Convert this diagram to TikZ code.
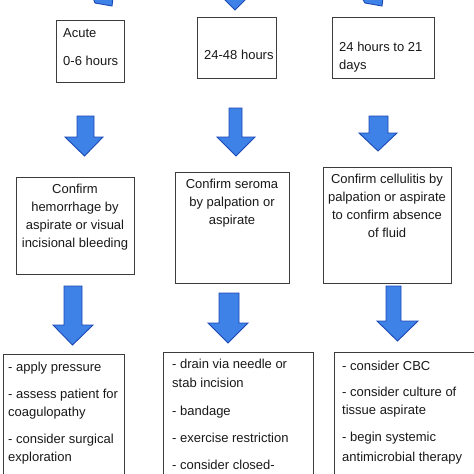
\documentclass[tikz,border=0pt]{standalone}
\usepackage{fontspec}
\setmainfont{Liberation Sans}
\definecolor{arrowfill}{RGB}{62,130,232}
\definecolor{arrowline}{RGB}{28,72,180}
\definecolor{boxline}{RGB}{60,60,60}
\definecolor{txtcol}{RGB}{25,25,25}
\tikzset{
  box/.style={draw=boxline, line width=0.9pt, fill=white, inner sep=0pt, rectangle},
  txt/.style={inner sep=0pt, text=txtcol, font=\fontsize{13}{18}\selectfont},
  blockarrow/.style={fill=arrowfill, draw=arrowline, line width=0.9pt, line join=miter}
}
\begin{document}
\begin{tikzpicture}[x=1pt,y=-1pt]
\useasboundingbox (0,0) rectangle (474,474);
\fill[white] (0,0) rectangle (474,474);
\clip (0,0) rectangle (474,474);

% top arrow tips (cut off)
\draw[blockarrow] (93,-2) -- (113,-2) -- (112,6) -- (95,3) -- cycle;
\draw[blockarrow] (223,-2) -- (247,-2) -- (235,10) -- cycle;
\draw[blockarrow] (362,-2) -- (383,-2) -- (382,6) -- (365,3) -- cycle;

% row 1 boxes
\node[box, minimum width=68pt, minimum height=62pt] (b1) at (90,51) {};
\node[box, minimum width=79pt, minimum height=61pt] (b2) at (236.5,47.5) {};
\node[box, minimum width=102pt, minimum height=61pt] (b3) at (383,47.5) {};
\node[txt, anchor=base west] (t1a) at (63,37) {Acute};
\node[txt, anchor=base west] (t1b) at (63,65) {0-6 hours};
\node[txt, anchor=base west] (t2a) at (204,59) {24-48 hours};
\node[txt, anchor=base west] (t3a) at (339,51.5) {24 hours to 21};
\node[txt, anchor=base west] (t3b) at (339,69.5) {days};

% row 2 arrows
\draw[blockarrow] (77,116) -- (94,116) -- (94,137) -- (103,137) -- (84.5,156) -- (65,137) -- (77,137) -- cycle;
\draw[blockarrow] (229,108) -- (242,108) -- (242,137) -- (255,137) -- (236,156) -- (217,137) -- (229,137) -- cycle;
\draw[blockarrow] (369,116) -- (388,116) -- (388,133) -- (397,133) -- (378,151) -- (359,133) -- (369,133) -- cycle;

% row 2 boxes
\node[box, minimum width=118pt, minimum height=97pt] (b4) at (75,225.5) {};
\node[box, minimum width=114pt, minimum height=111pt] (b5) at (232,227.5) {};
\node[box, minimum width=128pt, minimum height=116pt] (b6) at (387,225) {};
\node[txt, anchor=base] (t4a) at (75,193.5) {Confirm};
\node[txt, anchor=base] (t4b) at (75,211.5) {hemorrhage by};
\node[txt, anchor=base] (t4c) at (75,229.5) {aspirate or visual};
\node[txt, anchor=base] (t4d) at (75,247.5) {incisional bleeding};
\node[txt, anchor=base] (t5a) at (232,188.5) {Confirm seroma};
\node[txt, anchor=base] (t5b) at (232,206.5) {by palpation or};
\node[txt, anchor=base] (t5c) at (232,224.5) {aspirate};
\node[txt, anchor=base] (t6a) at (387,183.5) {Confirm cellulitis by};
\node[txt, anchor=base] (t6b) at (387,201.5) {palpation or aspirate};
\node[txt, anchor=base] (t6c) at (387,219.5) {to confirm absence};
\node[txt, anchor=base] (t6d) at (387,237.5) {of fluid};

% row 3 arrows
\draw[blockarrow] (64,286) -- (82,286) -- (82,325) -- (93,325) -- (72.5,345) -- (53,325) -- (64,325) -- cycle;
\draw[blockarrow] (219,293) -- (239,293) -- (239,323) -- (248,323) -- (228,343) -- (208,323) -- (219,323) -- cycle;
\draw[blockarrow] (386,286) -- (401,286) -- (401,321) -- (418,321) -- (397.5,341) -- (377,321) -- (386,321) -- cycle;

% row 3 boxes
\node[box, minimum width=121pt, minimum height=130pt] (b7) at (63.5,419) {};
\node[box, minimum width=150pt, minimum height=130pt] (b8) at (238,417) {};
\node[box, minimum width=146pt, minimum height=130pt] (b9) at (407,417) {};
\node[txt, anchor=base west] (t7a) at (8,371.5) {- apply pressure};
\node[txt, anchor=base west] (t7b) at (8,398.5) {- assess patient for};
\node[txt, anchor=base west] (t7c) at (8,416.5) {coagulopathy};
\node[txt, anchor=base west] (t7d) at (8,443.5) {- consider surgical};
\node[txt, anchor=base west] (t7e) at (8,461.5) {exploration};
\node[txt, anchor=base west] (t8a) at (172,368.5) {- drain via needle or};
\node[txt, anchor=base west] (t8b) at (172,387.5) {stab incision};
\node[txt, anchor=base west] (t8c) at (172,415.5) {- bandage};
\node[txt, anchor=base west] (t8d) at (172,442.5) {- exercise restriction};
\node[txt, anchor=base west] (t8e) at (172,469.5) {- consider closed-};
\node[txt, anchor=base west] (t9a) at (342,370.5) {- consider CBC};
\node[txt, anchor=base west] (t9b) at (342,396.5) {- consider culture of};
\node[txt, anchor=base west] (t9c) at (342,414.5) {tissue aspirate};
\node[txt, anchor=base west] (t9d) at (342,441.5) {- begin systemic};
\node[txt, anchor=base west] (t9e) at (342,461.5) {antimicrobial therapy};
\end{tikzpicture}
\end{document}
